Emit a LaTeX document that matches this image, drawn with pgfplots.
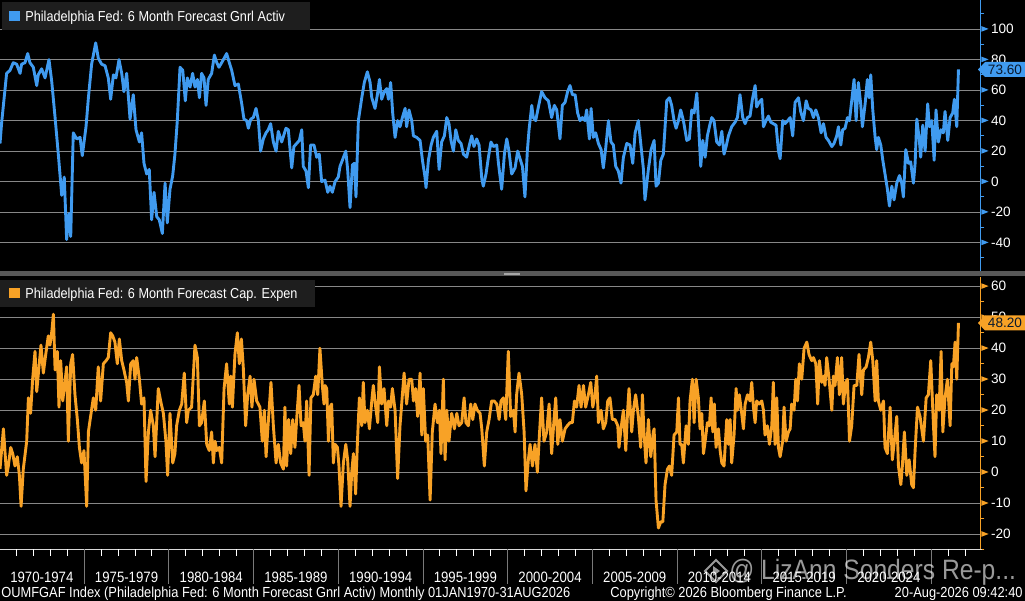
\documentclass[border=0pt]{standalone}
\usepackage{fontspec}
\setmainfont{Liberation Sans}[FakeStretch=0.88]
\newfontfamily\tickfont{Liberation Sans}
\usepackage{pgfplots}
\pgfplotsset{compat=1.18}
\definecolor{bbblue}{RGB}{64,155,240}
\definecolor{bborange}{RGB}{248,162,38}
\definecolor{gridgray}{RGB}{135,135,135}
\definecolor{boxgray}{RGB}{30,30,30}
\definecolor{sepgray}{RGB}{88,88,88}
\definecolor{tagtext}{RGB}{10,25,45}
\pgfplotsset{
  bbpanel/.style={
    scale only axis, width=490pt, xmin=1970, xmax=2027.647,
    axis line style={draw=none}, xtick=\empty,
    ytick pos=right, yticklabel pos=right,
    tick align=outside, major tick length=0pt, minor tick length=2.2pt,
    ymajorgrids, major grid style={gridgray, line width=0.45pt},
    yticklabel style={font=\tickfont\fontsize{6.8}{8}\selectfont, text=white, anchor=west, inner xsep=0pt, xshift=0.5pt},
    /pgf/number format/assume math mode=true,
  },
}
\begin{document}
\begin{tikzpicture}
\path[use as bounding box, fill=black] (0,0) rectangle (512.5pt,300.5pt);

% ---------------- top panel ----------------
\begin{axis}[bbpanel, at={(0pt,300.5pt)}, anchor=north west, height=135.5pt,
  ymin=-58.6, ymax=119.1,
  ytick={-40,-20,...,100}, minor ytick={-50,-30,...,110},
  tick style={bbblue, line width=0.5pt},
  yticklabel={\tikz[baseline={(0,-0.36em)}]\fill[bbblue](0,-1.4pt)--(0,1.4pt)--(3.6pt,0)--cycle;\hspace{1.2pt}\pgfmathprintnumber{\tick}},
]
\addplot[bbblue, line width=1.45pt, line join=round] table {
x y
1970.00 25
1970.10 39
1970.29 60
1970.39 71
1970.59 73
1970.78 78
1970.98 77
1971.18 71
1971.27 77
1971.47 78
1971.63 84
1971.76 78
1971.96 75
1972.16 63
1972.25 70
1972.45 74
1972.65 68
1972.88 80
1973.04 66
1973.24 42
1973.43 18
1973.63 -9
1973.78 3
1973.92 -38
1974.06 -21
1974.16 -36
1974.31 32
1974.51 28
1974.71 29
1974.84 17
1975.06 36
1975.20 55
1975.39 77
1975.63 91
1975.78 81
1975.98 77
1976.18 76
1976.37 68
1976.51 54
1976.67 70
1976.82 68
1977.00 80
1977.16 71
1977.29 59
1977.45 71
1977.65 41
1977.84 57
1978.00 34
1978.20 26
1978.33 32
1978.47 12
1978.63 5
1978.78 8
1978.92 -25
1979.06 -7
1979.22 -23
1979.37 -25
1979.55 -34
1979.71 -1
1979.84 -27
1980.00 -5
1980.16 4
1980.29 18
1980.43 40
1980.59 75
1980.75 73
1980.90 53
1981.02 68
1981.18 62
1981.33 71
1981.47 62
1981.61 67
1981.73 55
1981.86 71
1982.00 68
1982.12 50
1982.25 67
1982.45 71
1982.61 83
1982.75 78
1982.88 75
1983.04 78
1983.24 82
1983.33 84
1983.49 78
1983.63 73
1983.82 63
1984.02 64
1984.22 51
1984.35 41
1984.51 40
1984.61 35
1984.75 41
1984.90 42
1985.06 48
1985.20 40
1985.33 20
1985.49 28
1985.65 32
1985.78 34
1985.92 38
1986.08 26
1986.24 20
1986.37 33
1986.57 26
1986.82 35
1986.96 34
1987.16 9
1987.29 23
1987.45 25
1987.61 27
1987.75 34
1987.84 10
1988.00 7
1988.14 -4
1988.27 24
1988.47 24
1988.63 16
1988.78 18
1988.92 0
1989.12 1
1989.28 -7
1989.41 -3
1989.55 -7
1989.71 0
1989.90 3
1990.00 10
1990.14 14
1990.34 20
1990.45 8
1990.59 -17
1990.73 11
1990.85 12
1990.94 -10
1991.08 40
1991.28 55
1991.43 65
1991.61 72
1991.77 65
1991.87 55
1992.06 48
1992.20 57
1992.32 67
1992.45 54
1992.61 59
1992.75 61
1992.85 54
1992.98 65
1993.10 45
1993.24 29
1993.39 40
1993.53 36
1993.67 42
1993.83 48
1993.92 36
1994.06 47
1994.22 40
1994.32 30
1994.51 29
1994.71 27
1994.85 14
1995.00 3
1995.06 -4
1995.20 14
1995.36 24
1995.49 29
1995.69 33
1995.83 8
1995.98 26
1996.14 30
1996.28 42
1996.41 38
1996.53 27
1996.67 20
1996.81 34
1996.96 27
1997.12 25
1997.26 18
1997.45 16
1997.61 24
1997.75 30
1997.88 23
1998.04 28
1998.18 24
1998.34 2
1998.43 -3
1998.59 5
1998.73 16
1998.88 26
1999.02 23
1999.22 24
1999.32 12
1999.51 -5
1999.67 18
1999.81 28
1999.94 20
2000.10 5
2000.30 9
2000.45 20
2000.59 15
2000.73 10
2000.88 -10
2001.02 20
2001.12 34
2001.28 50
2001.37 42
2001.51 40
2001.67 49
2001.86 59
2002.06 55
2002.26 53
2002.45 42
2002.61 50
2002.75 47
2002.94 28
2003.08 50
2003.24 52
2003.39 59
2003.53 63
2003.67 57
2003.83 57
2003.98 45
2004.12 40
2004.26 42
2004.41 40
2004.51 47
2004.67 28
2004.77 48
2004.90 29
2005.04 32
2005.20 25
2005.36 21
2005.49 9
2005.63 22
2005.79 40
2005.94 26
2006.08 24
2006.22 10
2006.37 7
2006.53 -1
2006.67 16
2006.87 25
2007.06 24
2007.22 12
2007.36 32
2007.55 40
2007.71 23
2007.85 8
2007.94 -12
2008.14 8
2008.30 21
2008.48 27
2008.59 -3
2008.73 -1
2008.87 14
2009.02 18
2009.22 53
2009.38 55
2009.51 50
2009.65 40
2009.77 35
2009.91 40
2010.04 47
2010.20 40
2010.40 27
2010.55 28
2010.69 47
2010.83 45
2010.99 58
2011.08 40
2011.22 10
2011.34 27
2011.48 16
2011.61 30
2011.77 38
2011.87 42
2012.00 40
2012.16 26
2012.32 24
2012.46 33
2012.59 18
2012.71 23
2012.85 30
2013.04 36
2013.24 39
2013.38 42
2013.53 57
2013.69 42
2013.83 38
2013.97 42
2014.12 43
2014.26 54
2014.42 63
2014.51 49
2014.65 52
2014.81 54
2014.91 36
2015.06 40
2015.20 43
2015.34 39
2015.49 38
2015.65 37
2015.79 20
2015.89 15
2016.04 40
2016.18 38
2016.34 40
2016.48 42
2016.63 30
2016.77 52
2016.97 55
2017.10 46
2017.26 40
2017.42 53
2017.55 48
2017.71 47
2017.85 42
2017.99 47
2018.14 42
2018.30 32
2018.44 38
2018.59 29
2018.73 27
2018.93 23
2019.06 25
2019.22 30
2019.32 36
2019.46 24
2019.57 34
2019.71 35
2019.85 42
2019.97 40
2020.10 53
2020.24 67
2020.36 40
2020.49 65
2020.63 51
2020.73 36
2020.89 51
2021.02 67
2021.12 55
2021.22 70
2021.34 47
2021.48 29
2021.57 21
2021.67 29
2021.81 24
2021.93 14
2022.06 5
2022.20 -5
2022.32 -16
2022.46 -3
2022.59 -12
2022.75 -1
2022.91 4
2023.04 -1
2023.14 -10
2023.28 21
2023.44 12
2023.57 13
2023.73 -1
2023.83 12
2023.93 41
2024.08 27
2024.16 16
2024.28 37
2024.42 20
2024.57 51
2024.67 36
2024.81 40
2024.95 14
2025.06 47
2025.20 26
2025.34 34
2025.49 32
2025.59 46
2025.75 27
2025.89 42
2026.04 45
2026.14 54
2026.28 36
2026.38 73.6
};
\end{axis}

% ---------------- bottom panel ----------------
\begin{axis}[bbpanel, at={(0pt,162pt)}, anchor=north west, height=136.5pt,
  ymin=-25.1, ymax=63.0,
  ytick={-20,-10,...,60}, minor ytick={-25,-15,...,55},
  tick style={bborange, line width=0.5pt},
  yticklabel={\tikz[baseline={(0,-0.36em)}]\fill[bborange](0,-1.4pt)--(0,1.4pt)--(3.6pt,0)--cycle;\hspace{1.2pt}\pgfmathprintnumber{\tick}},
]
\addplot[bborange, line width=1.45pt, line join=round] table {
x y
1970.00 1
1970.20 14
1970.39 -1
1970.49 2
1970.63 8
1970.75 6
1970.88 2
1971.02 5
1971.14 -1
1971.24 -11
1971.37 1
1971.57 10
1971.67 24
1971.80 19
1971.92 30
1972.06 39
1972.16 26
1972.31 35
1972.41 41
1972.55 32
1972.69 38
1972.84 44
1972.94 41
1973.06 46
1973.14 51
1973.24 33
1973.37 39
1973.47 21
1973.57 36
1973.69 23
1973.82 29
1973.92 34
1974.02 10
1974.16 35
1974.27 38
1974.41 25
1974.55 17
1974.67 8
1974.80 3
1974.94 7
1975.10 -11
1975.20 13
1975.33 18
1975.49 24
1975.63 20
1975.78 34
1975.92 23
1976.08 35
1976.24 36
1976.37 37
1976.51 45
1976.63 44
1976.76 42
1976.90 35
1977.02 43
1977.16 36
1977.29 33
1977.45 29
1977.55 23
1977.69 35
1977.84 36
1977.94 30
1978.04 37
1978.20 30
1978.33 22
1978.47 24
1978.59 -3
1978.73 13
1978.86 20
1979.02 15
1979.12 5
1979.31 27
1979.45 23
1979.61 19
1979.76 10
1979.86 -1
1980.00 19
1980.16 3
1980.29 6
1980.39 15
1980.55 20
1980.69 22
1980.84 32
1980.98 16
1981.08 20
1981.27 21
1981.47 41
1981.61 37
1981.73 15
1981.86 16
1982.02 23
1982.16 9
1982.31 7
1982.45 13
1982.55 3
1982.65 10
1982.75 7
1982.90 8
1983.04 3
1983.18 27
1983.33 35
1983.49 22
1983.57 31
1983.67 21
1983.82 38
1983.96 45
1984.08 35
1984.20 43
1984.31 34
1984.45 15
1984.57 25
1984.71 31
1984.82 21
1984.94 30
1985.10 23
1985.29 21
1985.43 10
1985.55 20
1985.65 5
1985.78 16
1985.94 29
1986.08 15
1986.24 3
1986.37 9
1986.51 3
1986.67 1
1986.76 21
1986.86 2
1986.98 17
1987.10 6
1987.22 17
1987.35 8
1987.45 17
1987.59 28
1987.71 15
1987.84 16
1987.94 10
1988.04 23
1988.18 -1
1988.29 24
1988.43 25
1988.57 31
1988.69 25
1988.82 40
1988.96 28
1989.06 22
1989.12 28
1989.22 27
1989.32 10
1989.41 21
1989.51 22
1989.61 3
1989.71 9
1989.85 8
1989.94 2
1990.06 -11
1990.20 3
1990.34 9
1990.45 4
1990.59 -11
1990.69 0
1990.79 6
1990.92 -7
1991.02 9
1991.14 24
1991.28 15
1991.37 29
1991.47 16
1991.61 20
1991.73 14
1991.87 23
1991.96 28
1992.10 21
1992.22 16
1992.32 34
1992.45 22
1992.59 27
1992.75 15
1992.85 23
1992.98 21
1993.08 27
1993.24 20
1993.39 -2
1993.53 15
1993.77 32
1993.92 22
1994.06 30
1994.22 30
1994.32 23
1994.45 27
1994.57 18
1994.71 32
1994.81 12
1994.90 27
1995.04 10
1995.16 12
1995.30 -9
1995.43 13
1995.59 22
1995.73 16
1995.85 20
1995.94 6
1996.08 30
1996.18 4
1996.28 20
1996.41 10
1996.57 19
1996.73 14
1996.87 19
1997.00 15
1997.16 16
1997.30 24
1997.41 16
1997.55 15
1997.69 22
1997.81 17
1997.94 22
1998.08 20
1998.24 19
1998.34 14
1998.49 2
1998.63 13
1998.77 17
1998.92 23
1999.06 23
1999.22 22
1999.36 17
1999.47 23
1999.61 24
1999.75 17
1999.90 39
2000.04 18
2000.20 20
2000.30 13
2000.39 25
2000.53 32
2000.69 25
2000.83 13
2000.94 -6
2001.08 4
2001.18 9
2001.32 2
2001.47 9
2001.61 0
2001.73 12
2001.86 24
2002.00 10
2002.16 13
2002.30 22
2002.45 6
2002.59 17
2002.69 24
2002.81 9
2002.94 17
2003.08 10
2003.24 14
2003.37 15
2003.53 16
2003.67 16
2003.79 23
2003.92 21
2004.06 28
2004.18 21
2004.32 28
2004.45 21
2004.61 25
2004.75 29
2004.87 21
2005.00 25
2005.10 31
2005.20 16
2005.36 20
2005.49 14
2005.63 16
2005.75 23
2005.88 24
2006.02 17
2006.18 17
2006.34 15
2006.41 8
2006.53 14
2006.67 20
2006.81 7
2006.92 20
2007.00 27
2007.16 13
2007.26 20
2007.39 25
2007.55 18
2007.69 8
2007.79 25
2007.88 13
2008.00 3
2008.14 17
2008.28 5
2008.43 13
2008.48 14
2008.59 -9
2008.73 -18
2008.87 -16
2008.99 -16
2009.12 -4
2009.26 1
2009.38 2
2009.51 -1
2009.65 12
2009.81 13
2009.91 24
2010.00 9
2010.10 9
2010.20 3
2010.36 15
2010.49 9
2010.59 23
2010.73 30
2010.83 16
2010.95 30
2011.08 24
2011.18 14
2011.28 19
2011.38 6
2011.48 10
2011.61 16
2011.73 15
2011.83 24
2011.93 13
2012.02 22
2012.12 8
2012.26 14
2012.36 7
2012.46 3
2012.59 2
2012.75 17
2012.85 9
2012.95 17
2013.04 3
2013.18 12
2013.30 27
2013.38 20
2013.49 25
2013.63 19
2013.73 14
2013.83 22
2013.97 25
2014.12 23
2014.22 29
2014.32 21
2014.42 16
2014.51 23
2014.65 22
2014.81 23
2014.91 20
2015.00 12
2015.14 15
2015.26 9
2015.40 15
2015.49 29
2015.59 9
2015.69 24
2015.79 8
2015.89 5
2016.04 10
2016.12 21
2016.24 10
2016.38 13
2016.48 14
2016.57 22
2016.71 20
2016.81 30
2016.91 23
2017.02 35
2017.16 30
2017.30 40
2017.46 42
2017.59 38
2017.75 36
2017.85 37
2017.99 35
2018.10 22
2018.20 36
2018.34 29
2018.44 31
2018.53 28
2018.63 37
2018.77 30
2018.93 20
2019.02 31
2019.12 28
2019.26 37
2019.38 25
2019.51 37
2019.61 22
2019.75 29
2019.85 30
2019.97 10
2020.10 15
2020.24 28
2020.40 28
2020.53 38
2020.69 25
2020.79 33
2020.95 34
2021.08 37
2021.22 42
2021.34 36
2021.48 23
2021.57 36
2021.67 23
2021.81 20
2021.97 23
2022.06 8
2022.20 6
2022.36 21
2022.49 4
2022.61 10
2022.75 18
2022.85 2
2022.99 -4
2023.08 2
2023.20 13
2023.34 -1
2023.48 4
2023.63 -4
2023.73 -5
2023.83 7
2023.97 21
2024.12 18
2024.32 10
2024.48 24
2024.61 25
2024.75 36
2024.91 15
2025.00 5
2025.10 25
2025.24 20
2025.36 39
2025.46 13
2025.59 24
2025.73 30
2025.89 15
2025.99 35
2026.08 34
2026.18 42
2026.28 30
2026.38 48.2
};
\end{axis}

% ---------------- decorations (pixel coordinates, y down) ----------------
\begin{scope}[x=0.5pt, y=-0.5pt, shift={(0pt,300.5pt)}]
  % axis lines
  \draw[bbblue, line width=0.6pt] (980.5,0) -- (980.5,271);
  \draw[bborange, line width=0.6pt] (980.5,277) -- (980.5,550);
  % separator bar between panels
  \fill[sepgray] (0,271) rectangle (1025,276.5);
  \draw[gray!70, line width=0.4pt] (504,273) -- (520,273);
  \draw[gray!70, line width=0.4pt] (504,274.8) -- (520,274.8);
  % legend boxes
  \fill[boxgray] (2,2) rectangle (310,30);
  \fill[bbblue] (9,11) rectangle (20,21.5);
  \node[anchor=base west, inner sep=0pt, text=white, font=\fontsize{7.2}{8}\selectfont] at (25,21.5) {Philadelphia Fed: 6 Month Forecast Gnrl Activ};
  \fill[boxgray] (0,280) rectangle (315,307);
  \fill[bborange] (9,288) rectangle (20,298.5);
  \node[anchor=base west, inner sep=0pt, text=white, font=\fontsize{7.2}{8}\selectfont] at (25,298.5) {Philadelphia Fed: 6 Month Forecast Cap. Expen};
  % value tags
  \fill[bbblue] (978,69.5) -- (985,62) -- (1025,62) -- (1025,77) -- (985,77) -- cycle;
  \node[inner sep=0pt, text=tagtext, font=\tickfont\fontsize{6.8}{8}\selectfont] at (1005,69.8) {73.60};
  \fill[bborange] (978,323) -- (985,315.5) -- (1025,315.5) -- (1025,330.5) -- (985,330.5) -- cycle;
  \node[inner sep=0pt, text=tagtext, font=\tickfont\fontsize{6.8}{8}\selectfont] at (1005,323.3) {48.20};
  % x axis
  \draw[white!85!black, line width=0.5pt] (0,549.5) -- (982,549.5);
  \foreach \i in {0,...,57} { \draw[white, line width=0.5pt] ({\i*16.94-0.5},549.5) -- ({\i*16.94-0.5},556); }
  \foreach \i in {1,...,11} { \draw[sepgray!80!white, line width=0.5pt] ({\i*84.7-0.5},549.5) -- ({\i*84.7-0.5},584); }
  \foreach \k in {0,...,10} {
    \pgfmathtruncatemacro\ya{1970+5*\k}
    \pgfmathtruncatemacro\yb{1974+5*\k}
    \node[text=white, inner sep=0pt, font=\fontsize{7.5}{8}\selectfont] at ({\k*84.7+41.85},577) {\ya-\yb};
  }
  % watermark
  \begin{scope}[opacity=0.6]
    \draw[white, line width=0.9pt] (716,560) -- (727,571) -- (716,582) -- (705,571) -- cycle;
    \fill[white] (713,566) -- (720,571) -- (713,576) -- cycle;
    \node[anchor=west, inner sep=0pt, text=white, font=\fontsize{14}{16}\selectfont] at (729,572) {@ LizAnn Sonders Re-p...};
  \end{scope}
  % footer
  \node[anchor=west, inner sep=0pt, text=white, font=\fontsize{7.3}{8}\selectfont] at (1,594) {OUMFGAF Index (Philadelphia Fed: 6 Month Forecast Gnrl Activ) Monthly 01JAN1970-31AUG2026};
  \node[anchor=west, inner sep=0pt, text=white, font=\fontsize{7.3}{8}\selectfont] at (610,594) {Copyright© 2026 Bloomberg Finance L.P.};
  \node[anchor=east, inner sep=0pt, text=white, font=\fontsize{7.3}{8}\selectfont] at (1023,594) {20-Aug-2026 09:42:40};
\end{scope}
\end{tikzpicture}
\end{document}
